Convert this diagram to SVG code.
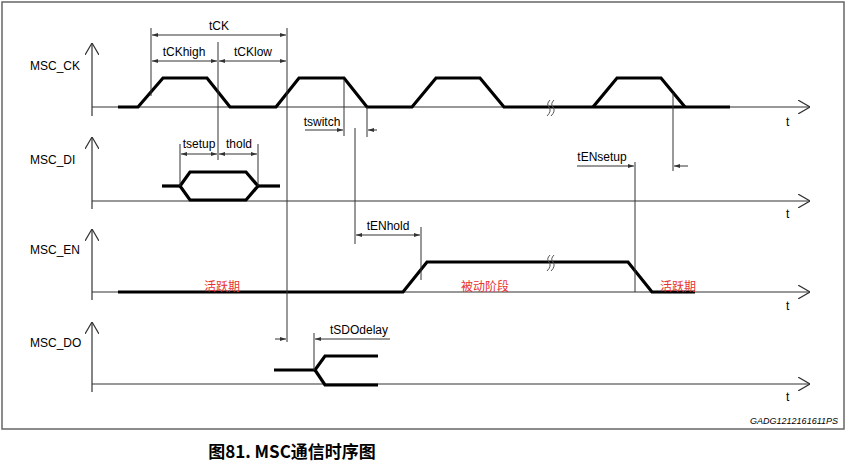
<svg xmlns="http://www.w3.org/2000/svg" width="847" height="462" viewBox="0 0 847 462">
<style>
.ax{stroke:#333;stroke-width:1.2;fill:none}
.sig{stroke:#000;stroke-width:3.2;fill:none;stroke-linejoin:miter}
.th{stroke:#333;stroke-width:1;fill:none}
.t{font-family:"Liberation Sans",Arial,sans-serif;font-size:12px;fill:#000}
.lab{font-family:"Liberation Sans",Arial,sans-serif;font-size:12px;fill:#000}
.red{font-family:"Noto Sans CJK SC",sans-serif;font-size:12px;fill:#e8322f;text-anchor:middle}
</style>
<defs>
<marker id="a" markerWidth="6" markerHeight="6" refX="6" refY="3" orient="auto-start-reverse" markerUnits="userSpaceOnUse"><path d="M0,1 L6,3 L0,5z" fill="#333"/></marker>
<marker id="o" markerWidth="12" markerHeight="14" refX="12" refY="7" orient="auto" markerUnits="userSpaceOnUse"><path d="M0,0 L12,7 L0,14" fill="none" stroke="#333" stroke-width="1.2"/></marker>
</defs>
<rect x="2" y="2" width="842" height="427" fill="#fff" stroke="#666" stroke-width="1.5"/>
<g id="axes" class="ax">
<line x1="92" y1="107" x2="810" y2="107" marker-end="url(#o)"/>
<line x1="92" y1="201" x2="810" y2="201" marker-end="url(#o)"/>
<line x1="92" y1="292" x2="810" y2="292" marker-end="url(#o)"/>
<line x1="92" y1="384" x2="810" y2="384" marker-end="url(#o)"/>
<line x1="92" y1="116" x2="92" y2="43" marker-end="url(#o)"/>
<line x1="92" y1="209" x2="92" y2="137" marker-end="url(#o)"/>
<line x1="92" y1="300" x2="92" y2="229" marker-end="url(#o)"/>
<line x1="92" y1="392" x2="92" y2="322" marker-end="url(#o)"/>
</g>
<g id="labels">
<text class="lab" x="30" y="70">MSC_CK</text>
<text class="lab" x="30" y="164">MSC_DI</text>
<text class="lab" x="30" y="254">MSC_EN</text>
<text class="lab" x="30" y="347">MSC_DO</text>
<text class="t" x="786" y="126">t</text>
<text class="t" x="786" y="218">t</text>
<text class="t" x="786" y="310">t</text>
<text class="t" x="786" y="401">t</text>
<text x="838" y="424" text-anchor="end" style="font-family:'Liberation Sans',Arial,sans-serif;font-size:9px;font-style:italic">GADG1212161611PS</text>
</g>
<g id="node-ck">
<polyline class="sig" points="118,107 138,107 163,78 207,78 230,107 276,107 299,78 344,78 367,107 412,107 436,78 480,78 504,107 730,107 M0,0"/>
<polyline class="sig" points="593,107 617,78 661,78 685,107"/>
<path d="M550,100 q-4,4 -1,7 q3,4 -2,9 M554,100 q-4,4 -1,7 q3,4 -2,9" stroke="#555" fill="none" stroke-width="1"/>
<line x1="548" y1="107" x2="556" y2="107" stroke="#fff" stroke-width="0"/>
</g>
<g id="node-di">
<polyline class="sig" points="162,186 180,186"/>
<polygon class="sig" points="180,186 190,172 246,172 258,186 246,200 190,200"/>
<polyline class="sig" points="258,186 280,186"/>
</g>
<g id="node-en">
<polyline class="sig" points="118,292 403,292 427,262 628,262 652,292 695,292"/>
<path d="M550,255 q-4,4 -1,7 q3,4 -2,9 M554,255 q-4,4 -1,7 q3,4 -2,9" stroke="#555" fill="none" stroke-width="1"/>
<text class="red" x="222" y="291">活跃期</text>
<text class="red" x="485" y="291">被动阶段</text>
<text class="red" x="678" y="291">活跃期</text>
</g>
<g id="node-do">
<polyline class="sig" points="274,370 315,370 325,356 378,356"/>
<polyline class="sig" points="315,370 325,385 378,385"/>
</g>
<g id="connectors">
<g class="th">
<line x1="151" y1="28" x2="151" y2="96"/>
<line x1="287" y1="28" x2="287" y2="342"/>
<line x1="218" y1="42" x2="218" y2="160"/>
<line x1="344" y1="80" x2="344" y2="136"/>
<line x1="367" y1="107" x2="367" y2="137"/>
<line x1="355" y1="128" x2="355" y2="244"/>
<line x1="180" y1="144" x2="180" y2="186"/>
<line x1="258" y1="144" x2="258" y2="186"/>
<line x1="421" y1="227" x2="421" y2="280"/>
<line x1="635" y1="162" x2="635" y2="292"/>
<line x1="673" y1="93" x2="673" y2="171"/>
<line x1="314" y1="333" x2="314" y2="370"/>
<line x1="152" y1="35" x2="286" y2="35" marker-start="url(#a)" marker-end="url(#a)"/>
<line x1="152" y1="61" x2="217" y2="61" marker-start="url(#a)" marker-end="url(#a)"/>
<line x1="219" y1="61" x2="286" y2="61" marker-start="url(#a)" marker-end="url(#a)"/>
<line x1="181" y1="154" x2="217" y2="154" marker-start="url(#a)" marker-end="url(#a)"/>
<line x1="219" y1="154" x2="257" y2="154" marker-start="url(#a)" marker-end="url(#a)"/>
<line x1="305" y1="130" x2="343" y2="130" marker-end="url(#a)"/>
<line x1="377" y1="130" x2="368" y2="130" marker-end="url(#a)"/>
<line x1="356" y1="235" x2="420" y2="235" marker-start="url(#a)" marker-end="url(#a)"/>
<line x1="577" y1="166" x2="634" y2="166" marker-end="url(#a)"/>
<line x1="688" y1="166" x2="674" y2="166" marker-end="url(#a)"/>
<line x1="275" y1="339" x2="286" y2="339" marker-end="url(#a)"/>
<line x1="390" y1="339" x2="315" y2="339" marker-end="url(#a)"/>
</g>
<text class="t" x="219" y="30" text-anchor="middle">tCK</text>
<text class="t" x="184" y="56" text-anchor="middle">tCKhigh</text>
<text class="t" x="253" y="56" text-anchor="middle">tCKlow</text>
<text class="t" x="199" y="148" text-anchor="middle">tsetup</text>
<text class="t" x="239" y="148" text-anchor="middle">thold</text>
<text class="t" x="322" y="126" text-anchor="middle">tswitch</text>
<text class="t" x="388" y="230" text-anchor="middle">tENhold</text>
<text class="t" x="602" y="161" text-anchor="middle">tENsetup</text>
<text class="t" x="359" y="334" text-anchor="middle">tSDOdelay</text>
</g>
<text x="292" y="458" text-anchor="middle" style="font-family:'Noto Sans CJK SC',sans-serif;font-size:17px;font-weight:bold">图81. MSC通信时序图</text>
</svg>
